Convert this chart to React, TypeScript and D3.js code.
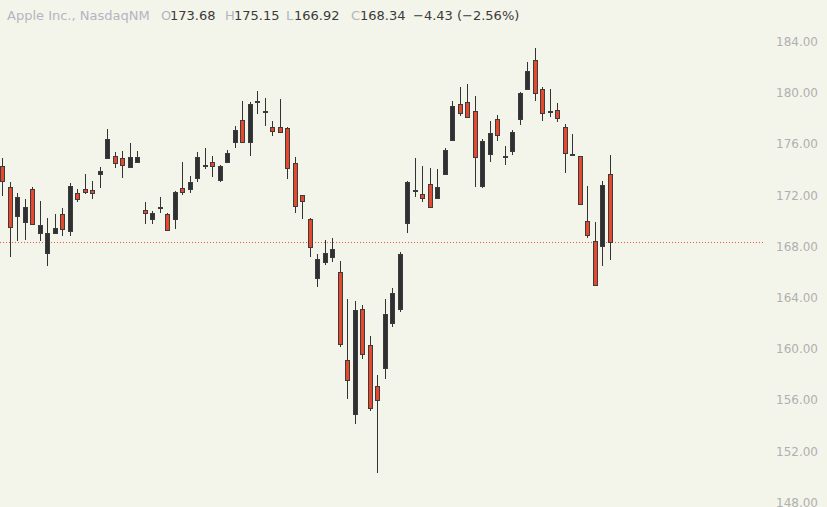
import * as d3 from "d3";

// OHLC values, oldest first
const opens = [
  174.29, 172.67, 170.41, 169.94, 172.49, 169.03, 167.47, 169.03, 170.54, 169.21,
  172.2, 172.49, 172.41, 173.64, 174.89, 175.07, 174.89, 174.19, 174.62, 170.85,
  170.12, 171.0, 170.54, 170.12, 172.55, 172.49, 173.37, 174.35, 174.62, 173.2,
  174.58, 176.14, 177.88, 176.14, 179.28, 178.55, 177.34, 177.34, 177.28, 174.55,
  172.02, 170.15, 165.52, 166.81, 167.2, 165.98, 159.13, 154.89, 163.12, 160.3,
  157.1, 158.48, 162.0, 163.09, 169.81, 172.38, 172.1, 172.86, 171.77, 173.64,
  176.32, 179.13, 179.27, 178.59, 172.75, 175.2, 177.96, 175.0, 175.46, 177.94,
  180.28, 182.57, 180.3, 178.57, 178.66, 177.36, 175.21, 175.07, 169.99, 168.43,
  168.06, 173.68,
];
const highs = [
  174.94, 173.02, 172.2, 171.73, 172.67, 171.58, 170.25, 170.52, 171.03, 172.94,
  172.47, 173.64, 173.12, 174.23, 177.18, 175.41, 175.46, 176.06, 175.48, 171.5,
  170.8, 171.89, 170.6, 172.36, 174.62, 173.53, 175.41, 175.67, 175.07, 174.37,
  175.54, 177.41, 179.39, 179.27, 180.17, 179.62, 177.83, 179.5, 177.36, 175.02,
  172.05, 170.2, 167.41, 168.51, 168.69, 166.87, 163.9, 163.74, 163.43, 161.01,
  157.96, 163.9, 164.73, 167.59, 173.14, 174.89, 174.31, 174.16, 174.03, 175.72,
  179.37, 180.48, 180.67, 179.78, 176.38, 177.8, 178.27, 175.85, 177.1, 180.05,
  182.44, 183.53, 180.48, 180.28, 179.19, 177.55, 176.79, 175.1, 172.75, 169.94,
  173.12, 175.15,
];
const lows = [
  171.95, 167.2, 168.45, 168.51, 169.68, 168.45, 166.5, 168.98, 168.84, 168.84,
  171.5, 172.1, 171.71, 172.55, 174.85, 174.16, 173.33, 174.1, 174.55, 169.73,
  169.76, 170.59, 169.25, 169.34, 172.02, 172.16, 173.06, 174.03, 173.45, 173.06,
  174.5, 175.72, 176.1, 175.09, 178.33, 177.44, 176.66, 176.89, 173.25, 170.59,
  170.12, 167.16, 164.81, 166.55, 166.81, 160.17, 156.06, 154.11, 159.19, 155.15,
  150.33, 157.62, 161.73, 162.91, 169.08, 171.84, 171.5, 171.0, 171.7, 173.6,
  176.24, 178.22, 178.05, 172.67, 172.55, 174.58, 176.24, 174.37, 175.15, 177.49,
  180.2, 179.37, 177.83, 178.14, 177.7, 173.72, 175.07, 171.25, 168.69, 164.95,
  166.5, 166.92,
];
const closes = [
  173.12, 169.5, 171.89, 171.09, 169.76, 169.68, 169.08, 169.47, 169.34, 172.75,
  171.69, 172.23, 172.2, 173.9, 176.4, 174.5, 174.37, 175.02, 175.02, 170.59,
  170.64, 171.08, 169.29, 172.28, 172.23, 173.06, 175.02, 174.4, 174.31, 174.29,
  175.33, 177.1, 176.19, 179.13, 179.33, 178.5, 177.02, 176.97, 174.16, 171.16,
  171.55, 167.94, 167.02, 167.47, 167.78, 160.36, 157.57, 163.04, 159.58, 155.36,
  156.01, 162.73, 164.34, 167.41, 173.06, 172.43, 171.81, 171.06, 172.67, 175.54,
  178.98, 178.41, 178.09, 174.97, 176.27, 176.89, 176.71, 175.05, 176.97, 180.02,
  181.73, 179.97, 178.41, 178.62, 178.02, 175.28, 175.25, 171.3, 168.9, 164.99,
  172.8, 168.34,
];

const yTicks = [148, 152, 156, 160, 164, 168, 172, 176, 180, 184];

const header = [
  { t: "Apple Inc., NasdaqNM", c: "#b3b4c2", x: 7 },
  { t: "O", c: "#b3b4c2", x: 161 },
  { t: "173.68", c: "#3b3b3b", x: 170 },
  { t: "H", c: "#b3b4c2", x: 225 },
  { t: "175.15", c: "#3b3b3b", x: 234 },
  { t: "L", c: "#b3b4c2", x: 286 },
  { t: "166.92", c: "#3b3b3b", x: 294 },
  { t: "C", c: "#b3b4c2", x: 351 },
  { t: "168.34", c: "#3b3b3b", x: 360 },
  { t: "\u22124.43 (\u22122.56%)", c: "#3b3b3b", x: 413 },
];

const W = 827;
const H = 507;
const plotRight = 765;

export default function App() {
  const idx = d3.range(opens.length);
  const x = d3.scaleLinear().domain([0, opens.length - 1]).range([2, 610]);
  const y = d3.scaleLinear().domain([148, 184]).range([502.5, 41.7]);
  const last = closes[closes.length - 1];
  const font = "'DejaVu Sans', Verdana, sans-serif";

  return (
    <svg
      width={W}
      height={H}
      style={{ position: "absolute", left: 0, top: 0, display: "block" }}
      fontFamily={font}
    >
      <rect width={W} height={H} fill="#f4f5ea" />

      {/* last price line */}
      <line
        x1={0}
        x2={plotRight}
        y1={Math.round(y(last)) + 0.5}
        y2={Math.round(y(last)) + 0.5}
        stroke="#e8593e"
        strokeDasharray="1,2"
      />

      {/* candles */}
      {idx.map((i) => {
        const left = Math.round(x(i)) - 2;
        const up = closes[i] >= opens[i];
        const top = Math.round(y(Math.max(opens[i], closes[i])));
        const bot = Math.round(y(Math.min(opens[i], closes[i])));
        const h = Math.max(1, bot - top);
        return (
          <g key={i}>
            <line
              x1={left + 2.5}
              x2={left + 2.5}
              y1={Math.round(y(highs[i]))}
              y2={Math.round(y(lows[i]))}
              stroke="#333"
              strokeWidth={1}
            />
            <rect
              x={left + 0.5}
              y={top + 0.5}
              width={4}
              height={h}
              fill={up ? "#2f3033" : "#e5482d"}
              stroke="#3c3c3c"
              strokeWidth={1}
            />
          </g>
        );
      })}

      {/* y axis labels */}
      {yTicks.map((t) => (
        <text
          key={t}
          x={776}
          y={y(t)}
          dy="0.35em"
          fontSize={12}
          fill="#b0b0b0"
        >
          {d3.format(".2f")(t)}
        </text>
      ))}

      {/* header */}
      {header.map((p, i) => (
        <text key={i} x={p.x} y={20} fontSize={13} fill={p.c}>
          {p.t}
        </text>
      ))}
    </svg>
  );
}
